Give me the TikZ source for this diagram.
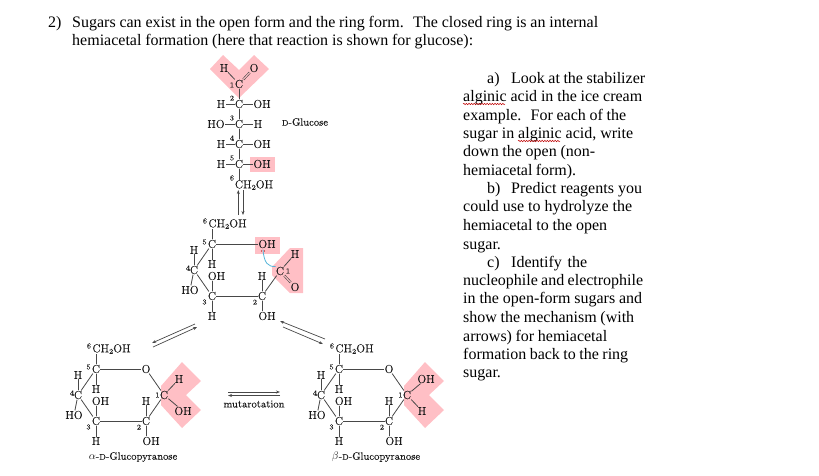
\documentclass[tikz,border=0pt]{standalone}
\usepackage{fontspec}
\usetikzlibrary{arrows.meta,decorations.pathmorphing,calc}
\newfontfamily\wordfont{Liberation Serif}
\newfontfamily\chemfont[FakeBold=0.2]{Latin Modern Roman}
\definecolor{pinkc}{HTML}{FFBFC5}
\definecolor{inkc}{HTML}{1A1A1A}
\definecolor{bondc}{HTML}{484848}
\definecolor{bluec}{HTML}{55B4D8}
\newcounter{tln}
\newcommand{\tl}[4]{\stepcounter{tln}\pgfmathsetlengthmacro{\tw}{(#2-#1)*1pt}%
  \node[wordline] (tl\arabic{tln}) at (#1,#3) {\makebox[\tw][s]{#4}};}
\newcommand{\chtwo}{CH\raisebox{-1.5pt}{\fontsize{7.5}{7.5}\selectfont 2}OH}
\newcommand{\smallD}{{\fontsize{8}{8}\selectfont D}}
\newcommand{\ringcore}[3]{% prefix, dx, dy
 \begin{scope}[shift={(#2,#3)}]
  \node[atom] (#1C5) at (96,369) {C};
  \node[atom] (#1C4) at (78,395) {C};
  \node[atom] (#1C3) at (96,421) {C};
  \node[atom] (#1C2) at (146,421) {C};
  \node[atom] (#1CH) at (111.5,349) {\chtwo};
  \node[atom] (#1H5) at (96,389) {H};
  \node[atom] (#1H4) at (78,375) {H};
  \node[atom] (#1HO4) at (74,415) {HO};
  \node[atom] (#1OH3) at (100.5,401) {OH};
  \node[atom] (#1H3) at (96,441) {H};
  \node[atom] (#1H2) at (146,401) {H};
  \node[atom] (#1OH2) at (151,441) {OH};
  \node[num] (#1n6) at (89,346) {6};
  \node[num] (#1n5) at (88.5,367) {5};
  \node[num] (#1n4) at (72,393) {4};
  \node[num] (#1n3) at (88.5,427) {3};
  \node[num] (#1n2) at (139,427) {2};
  \draw[bond] (#1C5) -- (#1C5 |- #1CH.south);
  \draw[bond] (#1C5) -- (#1H5);
  \draw[bond] (#1C5) -- (#1C4);
  \draw[bond] (#1C4) -- (#1H4);
  \draw[bond] (#1C4) -- (#1HO4);
  \draw[bond] (#1C4) -- (#1C3);
  \draw[bond] (#1C3) -- (#1C3 |- #1OH3.south);
  \draw[bond] (#1C3) -- (#1H3);
  \draw[bond] (#1C3) -- (#1C2);
  \draw[bond] (#1C2) -- (#1H2);
  \draw[bond] (#1C2) -- (#1C2 |- #1OH2.north);
 \end{scope}}
\tikzset{
  atom/.style={inner sep=0.2pt,font=\chemfont\fontsize{11.5}{11.5}\selectfont,text=inkc},
  num/.style={inner sep=0pt,font=\chemfont\fontsize{7.5}{7.5}\selectfont,text=inkc},
  captext/.style={inner sep=0pt,font=\chemfont\fontsize{10.6}{11}\selectfont,text=inkc},
  bond/.style={draw=bondc,line width=0.8pt},
  eqarrow/.style={draw=bondc,line width=0.7pt,-{Stealth[length=4pt,width=3pt]}},
  wordline/.style={anchor=base west,inner sep=0pt,font=\wordfont\fontsize{16}{18}\selectfont,text=black},
  patch/.style={fill=pinkc,draw=none},
  squig/.style={draw=red!75!black,line width=0.5pt,decorate,decoration={snake,amplitude=0.7pt,segment length=2.6pt}}
}
\begin{document}
\begin{tikzpicture}[x=1pt,y=-1pt]
\useasboundingbox (0,0) rectangle (819,475);
% pink highlights
\fill[patch] (210,69) -- (223,55) -- (239,70) -- (254,55) -- (269,69) -- (239,98) -- cycle;
\fill[patch] (250,157) rectangle (275,172);
\fill[patch] (255,237) rectangle (280,254);
\fill[patch] (272,267) -- (290,248) -- (303,248) -- (303,293) -- (290,293) -- (272,275) -- cycle;
\fill[patch] (161,386) -- (182,362) -- (201,381) -- (186,395) -- (201,410) -- (182,428) -- (161,405) -- cycle;
\fill[patch] (404,386) -- (425,362) -- (444,381) -- (429,395) -- (444,410) -- (425,428) -- (404,405) -- cycle;
% heading
\tl{48}{62}{27.7}{2)}
\tl{72}{598}{27.7}{Sugars can exist in the open form and the ring form.\hspace{4pt} The closed ring is an internal}
\tl{72}{473}{45.7}{hemiacetal formation (here that reaction is shown for glucose):}
% right column
\tl{487}{502}{83}{a)}
\tl{511}{645}{83}{Look at the stabilizer}
\tl{463}{642}{101.7}{alginic acid in the ice cream}
\tl{463}{626}{120}{example.\hspace{4pt} For each of the}
\tl{463}{633}{138}{sugar in alginic acid, write}
\tl{463}{595}{156}{down the open (non-}
\tl{463}{576}{175}{hemiacetal form).}
\tl{487}{502}{193}{b)}
\tl{511}{642}{193}{Predict reagents you}
\tl{463}{632}{211.7}{could use to hydrolyze the}
\tl{463}{607}{230}{hemiacetal to the open}
\tl{463}{500}{249}{sugar.}
\tl{487}{499}{267}{c)}
\tl{511}{587}{267}{Identify the}
\tl{463}{643}{285}{nucleophile and electrophile}
\tl{463}{642}{303}{in the open-form sugars and}
\tl{463}{634}{322}{show the mechanism (with}
\tl{463}{607}{341}{arrows) for hemiacetal}
\tl{463}{628}{359}{formation back to the ring}
\tl{463}{500}{377}{sugar.}
\draw[squig] (463,104) -- (505,104);
\draw[squig] (518,141) -- (560,141);
% open-chain glucose
\node[atom] (oH1) at (224,68) {H};
\node[atom] (oO1) at (254,68) {O};
\node[atom] (oC1) at (239,84) {C};
\node[atom] (oC2) at (239,104) {C};
\node[atom] (oH2) at (221,104) {H};
\node[atom] (oOH2) at (262,104) {OH};
\node[atom] (oC3) at (239,124) {C};
\node[atom] (oHO3) at (216,124) {HO};
\node[atom] (oH3) at (258,124) {H};
\node[atom] (oC4) at (239,144) {C};
\node[atom] (oH4) at (221,144) {H};
\node[atom] (oOH4) at (262,144) {OH};
\node[atom] (oC5) at (239,164) {C};
\node[atom] (oH5) at (221,164) {H};
\node[atom] (oOH5) at (262,164) {OH};
\node[atom] (oCH) at (254,185) {\chtwo};
\node[num] (on1) at (232,85) {1};
\node[num] (on2) at (232,98) {2};
\node[num] (on3) at (232,118) {3};
\node[num] (on4) at (232,138) {4};
\node[num] (on5) at (232,158) {5};
\node[num] (on6) at (232,178) {6};
\node[captext] (oname) at (305,122) {\smallD-Glucose};
\draw[bond] (oC1) -- (oH1);
\draw[bond,double=pinkc,double distance=1.1pt,line width=0.6pt] (oC1) -- (oO1);
\draw[bond] (oC1) -- (oC2);
\draw[bond] (oC2) -- (oH2);
\draw[bond] (oC2) -- (oOH2);
\draw[bond] (oC2) -- (oC3);
\draw[bond] (oC3) -- (oHO3);
\draw[bond] (oC3) -- (oH3);
\draw[bond] (oC3) -- (oC4);
\draw[bond] (oC4) -- (oH4);
\draw[bond] (oC4) -- (oOH4);
\draw[bond] (oC4) -- (oC5);
\draw[bond] (oC5) -- (oH5);
\draw[bond] (oC5) -- (oOH5);
\draw[bond] (oC5) -- (oC5 |- oCH.north);
% open <-> middle
\coordinate (eqA1) at (238.3,215);
\coordinate (eqA2) at (238.3,190);
\coordinate (eqB1) at (243,190);
\coordinate (eqB2) at (243,215);
\draw[eqarrow] (eqA1) -- (eqA2);
\draw[eqarrow] (eqB1) -- (eqB2);
% middle ring
\ringcore{m}{116}{-125}
\node[atom] (mO) at (267,244) {OH};
\node[atom] (mC1) at (280,271) {C};
\node[atom] (mH1) at (295,254) {H};
\node[atom] (mO1) at (295,287) {O};
\node[num] (mn1) at (288,271) {1};
\draw[bond] (mC5) -- (mO);
\draw[bond] (mC1) -- (mC2);
\draw[bond] (mC1) -- (mH1);
\draw[bond,double=pinkc,double distance=1.1pt,line width=0.6pt] (mC1) -- (mO1);
\draw[draw=bluec,line width=0.8pt] (mO.south) ++(-4,1) .. controls (264,263) and (268,267) .. (mC1.north west);
\fill[red!70!black] (261.5,251) circle (0.6pt) (264.5,251) circle (0.6pt);
% alpha
\ringcore{a}{0}{0}
\node[atom] (aO) at (146,369) {O};
\node[atom] (aC1) at (164,395) {C};
\node[atom] (aH1) at (179,379) {H};
\node[atom] (aOH1) at (183,411) {OH};
\node[num] (an1) at (157.5,395) {1};
\node[captext] (aname) at (133,457) {$\alpha$-\smallD-Glucopyranose};
\draw[bond] (aC5) -- (aO);
\draw[bond] (aO) -- (aC1);
\draw[bond] (aC1) -- (aC2);
\draw[bond] (aC1) -- (aH1);
\draw[bond] (aC1) -- (aOH1);
% beta
\ringcore{b}{243}{0}
\node[atom] (bO) at (389,369) {O};
\node[atom] (bC1) at (407,395) {C};
\node[atom] (bOH1) at (426,379) {OH};
\node[atom] (bH1) at (422,411) {H};
\node[num] (bn1) at (400.5,395) {1};
\node[captext] (bname) at (376,457) {$\beta$-\smallD-Glucopyranose};
\draw[bond] (bC5) -- (bO);
\draw[bond] (bO) -- (bC1);
\draw[bond] (bC1) -- (bC2);
\draw[bond] (bC1) -- (bOH1);
\draw[bond] (bC1) -- (bH1);
% middle <-> alpha
\coordinate (lA1) at (195,324);
\coordinate (lA2) at (152,343);
\coordinate (lB1) at (153,347);
\coordinate (lB2) at (197,327);
\draw[eqarrow] (lA1) -- (lA2);
\draw[eqarrow] (lB1) -- (lB2);
% middle <-> beta
\coordinate (rA1) at (325,339);
\coordinate (rA2) at (280,321);
\coordinate (rB1) at (283,327);
\coordinate (rB2) at (323,344);
\draw[eqarrow] (rA1) -- (rA2);
\draw[eqarrow] (rB1) -- (rB2);
% mutarotation
\coordinate (muA1) at (228,392);
\coordinate (muA2) at (280,392);
\coordinate (muB1) at (280,395.5);
\coordinate (muB2) at (228,395.5);
\draw[eqarrow] (muA1) -- (muA2);
\draw[eqarrow] (muB1) -- (muB2);
\node[captext] (mutlabel) at (254,404) {mutarotation};
\end{tikzpicture}
\end{document}
